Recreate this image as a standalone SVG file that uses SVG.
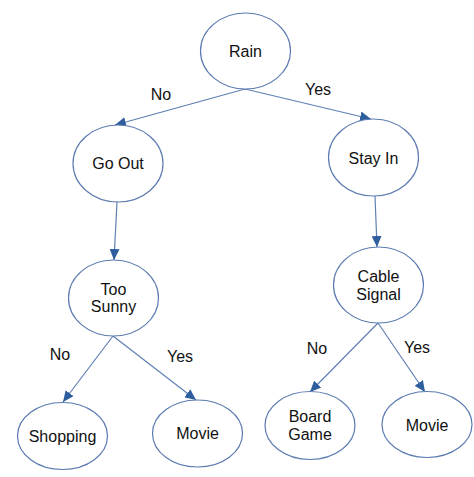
<svg xmlns="http://www.w3.org/2000/svg" width="474" height="477" viewBox="0 0 474 477">
<defs>
<style>
.node ellipse{fill:#ffffff;stroke:#5b7bb0;stroke-width:1.2}
.node text,.lbl{font-family:"Liberation Sans",Arial,sans-serif;font-size:16px;fill:#111111;text-anchor:middle}
.edge{stroke:#5f80b3;stroke-width:1.2;fill:none;marker-end:url(#arr)}
</style>
<marker id="arr" markerUnits="userSpaceOnUse" markerWidth="12" markerHeight="10" refX="11" refY="5" orient="auto">
<path d="M0,0 L11,5 L0,10 Z" fill="#2f5e9e"/>
</marker>
</defs>
<rect width="474" height="477" fill="#ffffff"/>
<g id="connectors">
<line class="edge" x1="245" y1="89" x2="115" y2="125"/>
<line class="edge" x1="245" y1="89" x2="371" y2="119"/>
<line class="edge" x1="117" y1="202" x2="114" y2="260"/>
<line class="edge" x1="375" y1="196" x2="377" y2="247"/>
<line class="edge" x1="113" y1="336" x2="63" y2="402"/>
<line class="edge" x1="113" y1="336" x2="196" y2="400"/>
<line class="edge" x1="378" y1="323" x2="310" y2="392"/>
<line class="edge" x1="378" y1="323" x2="425" y2="392"/>
<text class="lbl" x="161" y="100">No</text>
<text class="lbl" x="318" y="95">Yes</text>
<text class="lbl" x="60" y="360">No</text>
<text class="lbl" x="180" y="362">Yes</text>
<text class="lbl" x="317" y="354">No</text>
<text class="lbl" x="417" y="353">Yes</text>
</g>
<g id="rain" class="node"><ellipse cx="245.5" cy="51" rx="45" ry="38"/><text x="245.5" y="57">Rain</text></g>
<g id="go-out" class="node"><ellipse cx="118" cy="163.5" rx="45" ry="38.5"/><text x="118" y="169">Go Out</text></g>
<g id="stay-in" class="node"><ellipse cx="373.5" cy="157.5" rx="45" ry="38.5"/><text x="373.5" y="164">Stay In</text></g>
<g id="too-sunny" class="node"><ellipse cx="113.5" cy="298" rx="45" ry="38"/><text x="113.5" y="295">Too</text><text x="113.5" y="312">Sunny</text></g>
<g id="cable-signal" class="node"><ellipse cx="378.5" cy="285" rx="45" ry="38"/><text x="378.5" y="282">Cable</text><text x="378.5" y="300">Signal</text></g>
<g id="shopping" class="node"><ellipse cx="62.5" cy="436" rx="45" ry="33.5"/><text x="62.5" y="442">Shopping</text></g>
<g id="movie-left" class="node"><ellipse cx="197.5" cy="433.5" rx="45" ry="33.5"/><text x="197.5" y="439">Movie</text></g>
<g id="board-game" class="node"><ellipse cx="310" cy="425.5" rx="45" ry="34"/><text x="310" y="422">Board</text><text x="310" y="439.5">Game</text></g>
<g id="movie-right" class="node"><ellipse cx="427" cy="424.5" rx="45" ry="33"/><text x="427" y="431">Movie</text></g>
</svg>
